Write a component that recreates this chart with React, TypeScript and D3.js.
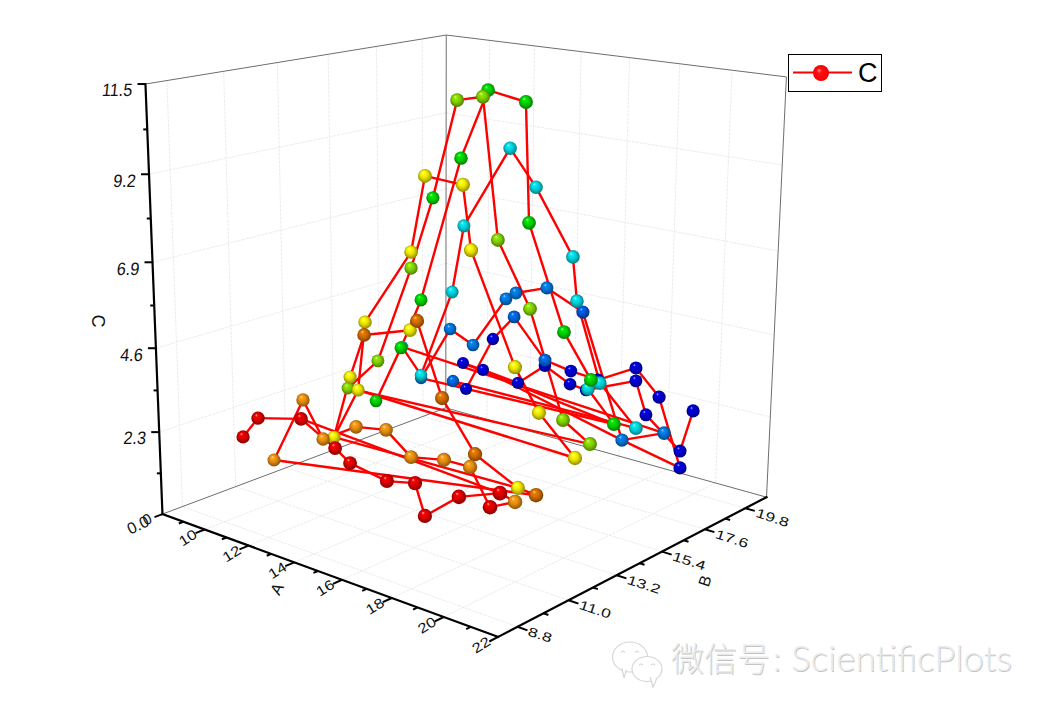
import { useEffect, useRef } from 'react'
import * as d3 from 'd3'

// values, in drawing order
const seriesA = [
  9.58, 10.3, 12.24, 13.7, 14.33, 15.86, 17.0, 17.39, 18.72, 20.27,
  19.97, 19.64, 18.24, 17.21, 15.88, 14.85, 13.58, 12.13, 11.26, 9.87,
  20.41, 18.87, 18.07, 16.76, 15.76, 14.51, 13.56, 11.91, 11.15,
  20.68, 19.3, 18.36, 16.61, 16.28, 14.76, 14.18, 12.19, 11.85,
  20.27, 19.23, 17.89, 16.6, 15.97, 14.94, 13.01, 13.02, 11.54, 10.16,
  20.37, 18.56, 19.46, 18.39, 16.96, 16.78, 15.28, 14.19, 12.49, 11.59, 10.44,
  20.44, 19.02, 18.06, 17.87, 16.37, 15.31, 13.41, 12.91, 11.53, 10.67,
  20.77, 19.16, 17.18, 16.03, 14.75, 14.33, 12.92, 11.9, 10.58,
  20.41, 19.51, 18.57, 17.06, 15.93, 15.83, 14.51, 12.55, 11.35, 11.85,
  10.66, 11.58, 13.16, 14.33, 15.42, 16.1, 18.13, 18.57, 19.96, 20.41,
]
const seriesB = [
  10, 10, 10, 10, 10, 10, 10, 10, 10, 10,
  11, 10.3, 11, 11, 11, 11, 11, 11, 11, 11,
  11.4, 12.4, 11.4, 11.4, 11.4, 12.4, 11.4, 12.4, 12.4,
  12.8, 12.8, 12.8, 12.8, 12.8, 12.8, 12.8, 12.8, 12.8,
  14, 14, 14, 14, 14, 14, 15, 14, 14, 14,
  15, 16, 15, 15, 15, 15, 15, 15, 15, 15, 15,
  16, 16, 16, 16, 16, 16, 16, 16, 16, 16,
  17, 17, 17.4, 17, 17, 17, 17, 17, 17,
  18.4, 18.4, 18.4, 18.4, 18.4, 17.2, 17.2, 18.4, 18.4, 17.2,
  19, 19, 19, 19, 19, 19, 19, 19, 19, 19,
]
const seriesC = [
  1.99, 2.65, 2.99, 2.48, 2.2, 2.03, 2.21, 1.43, 2.21, 2.63,
  2.08, 2.06, 2.63, 2.61, 2.42, 2.95, 2.79, 2.18, 3.1, 1.15,
  2.24, 1.85, 2.83, 4.05, 5.89, 5.25, 5.17, 3.54, 1.71,
  2.9, 3.81, 4.83, 7.58, 9.2, 9.25, 7.2, 5.02, 3.08,
  2.89, 3.33, 6.03, 7.64, 11.23, 11.05, 8.14, 6.4, 3.59, 2.57,
  3.2, 3.59, 4.21, 5.3, 7.97, 11.06, 11.22, 9.34, 5.26, 3.76, 2.02,
  2.87, 3.83, 5.88, 7.03, 8.68, 9.59, 7.27, 5.36, 2.75, 3.43,
  2.56, 2.06, 5.18, 5.75, 5.42, 5.19, 3.65, 3.95, 2.28,
  1.18, 3.0, 3.65, 3.05, 3.11, 3.66, 4.67, 3.48, 1.78, 2.37,
  2.32, 2.27, 2.15, 2.86, 2.51, 2.46, 3.08, 2.19, 1.42, 2.64,
]
// the line runs through the points in order, except after these
const gapsAfter = [28, 37, 47, 58, 77, 87]
// connections that the order above does not give
const extraLinks = [
  [2, 9], [28, 21], [37, 28], [37, 29], [47, 38], [77, 48], [87, 59], [88, 48], [89, 70], [78, 70],
]
const ticksA = [10, 12, 14, 16, 18, 20, 22]
const minorA = [9, 11, 13, 15, 17, 19, 21]
const ticksB = [8.8, 11, 13.2, 15.4, 17.6, 19.8]
const minorB = [9.9, 12.1, 14.3, 16.5, 18.7]
const ticksC = [2.3, 4.6, 6.9, 9.2, 11.5]
const minorC = [1.15, 3.45, 5.75, 8.05, 10.35]

const aScale = d3.scaleLinear().domain([8, 22]).range([0, 1])
const bScale = d3.scaleLinear().domain([8, 21]).range([0, 1])
const cScale = d3.scaleLinear().domain([0, 11.5]).range([0, 1])

const ballColor = d3.scaleLinear<string>()
  .domain([10.4, 11, 11.4, 12.4, 12.8, 14, 15, 16, 17, 18.4])
  .range(['#d80000', '#e08a10', '#cc6a00', '#e6df00', '#e6df00', '#7fcc00', '#00cc00', '#00cdd6', '#0073d6', '#0000cc'])
  .clamp(true)

// image positions of the box corners, used to fit the 3D camera
const corners: number[][] = [
  [0, 0, 0, 163, 514], [1, 0, 0, 498, 637], [1, 1, 0, 767, 497], [0, 1, 0, 445, 408],
  [0, 0, 1, 145, 84], [1, 1, 1, 786, 77], [0, 1, 1, 447, 35],
]

function solve(m: number[][], r: number[]) {
  const n = r.length
  const a = m.map((row, i) => [...row, r[i]])
  for (let i = 0; i < n; i++) {
    let p = i
    for (let k = i + 1; k < n; k++) if (Math.abs(a[k][i]) > Math.abs(a[p][i])) p = k
    ;[a[i], a[p]] = [a[p], a[i]]
    for (let k = 0; k < n; k++) {
      if (k === i) continue
      const f = a[k][i] / a[i][i]
      for (let j = i; j <= n; j++) a[k][j] -= f * a[i][j]
    }
  }
  return a.map((row, i) => row[n] / row[i])
}

function fitCamera() {
  const rows: number[][] = []
  const rhs: number[] = []
  corners.forEach(([u, v, w, x, y]) => {
    rows.push([u, v, w, 1, 0, 0, 0, 0, -x * u, -x * v, -x * w]); rhs.push(x)
    rows.push([0, 0, 0, 0, u, v, w, 1, -y * u, -y * v, -y * w]); rhs.push(y)
  })
  const ata = d3.range(11).map(i => d3.range(11).map(j => d3.sum(rows, r => r[i] * r[j])))
  const atb = d3.range(11).map(i => d3.sum(rows, (r, k) => r[i] * rhs[k]))
  return solve(ata, atb)
}

const cam = fitCamera()

function project(a: number, b: number, c: number) {
  const u = aScale(a), v = bScale(b), w = cScale(c)
  const d = cam[8] * u + cam[9] * v + cam[10] * w + 1
  return {
    x: (cam[0] * u + cam[1] * v + cam[2] * w + cam[3]) / d,
    y: (cam[4] * u + cam[5] * v + cam[6] * w + cam[7]) / d,
    d,
  }
}

const [aMin, aMax] = aScale.domain()
const [bMin, bMax] = bScale.domain()
const [cMin, cMax] = cScale.domain()

const FONT = '"Liberation Sans", Arial, sans-serif'

export default function App() {
  const svgRef = useRef<SVGSVGElement>(null)

  useEffect(() => {
    const svg = d3.select(svgRef.current)
    svg.selectAll('*').remove()
    const defs = svg.append('defs')

    const seg = (g: any, p: any, q: any, color: string, width: number, dash?: string) =>
      g.append('line')
        .attr('x1', p.x).attr('y1', p.y).attr('x2', q.x).attr('y2', q.y)
        .attr('stroke', color).attr('stroke-width', width)
        .attr('stroke-dasharray', dash ?? null)

    // grid on the two walls and the floor
    const grid = svg.append('g')
    const gridLine = (p: any, q: any) => seg(grid, p, q, '#ececec', 1, '3,1')
    ticksA.slice(0, -1).forEach(a => {
      gridLine(project(a, bMin, 0), project(a, bMax, 0))
      gridLine(project(a, bMax, 0), project(a, bMax, cMax))
    })
    ticksB.forEach(b => {
      gridLine(project(aMin, b, 0), project(aMax, b, 0))
      gridLine(project(aMin, b, 0), project(aMin, b, cMax))
    })
    ticksC.slice(0, -1).forEach(c => {
      gridLine(project(aMin, bMin, c), project(aMin, bMax, c))
      gridLine(project(aMin, bMax, c), project(aMax, bMax, c))
    })

    // thin box edges
    const edges = svg.append('g')
    const edge = (p: any, q: any) => seg(edges, p, q, '#6e6e6e', 1)
    edge(project(aMin, bMax, cMin), project(aMin, bMax, cMax))
    edge(project(aMax, bMax, cMin), project(aMax, bMax, cMax))
    edge(project(aMin, bMin, cMax), project(aMin, bMax, cMax))
    edge(project(aMin, bMax, cMax), project(aMax, bMax, cMax))
    edge(project(aMin, bMin, cMin), project(aMin, bMax, cMin))
    edge(project(aMin, bMax, cMin), project(aMax, bMax, cMin))

    // axes
    const axes = svg.append('g')
    seg(axes, project(aMin, bMin, 0), project(aMax, bMin, 0), '#000', 2.2).attr('stroke-linecap', 'square')
    seg(axes, project(aMax, bMin, 0), project(aMax, bMax, 0), '#000', 2.2).attr('stroke-linecap', 'square')
    seg(axes, project(aMin, bMin, 0), project(aMin, bMin, cMax), '#000', 2.2).attr('stroke-linecap', 'square')

    ticksA.forEach(a => seg(axes, project(a, bMin, 0), project(a, bMin - 0.36, 0), '#000', 2))
    minorA.forEach(a => seg(axes, project(a, bMin, 0), project(a, bMin - 0.18, 0), '#000', 2))
    ticksB.forEach(b => seg(axes, project(aMax, b, 0), project(aMax + 0.36, b, 0), '#000', 2))
    minorB.forEach(b => seg(axes, project(aMax, b, 0), project(aMax + 0.18, b, 0), '#000', 2))
    ticksC.concat(0).forEach(c => {
      const p = project(aMin, bMin, c)
      seg(axes, p, { x: p.x - 8, y: p.y + (c === 0 ? 3 : 0) }, '#000', 2)
    })
    minorC.forEach(c => {
      const p = project(aMin, bMin, c)
      seg(axes, p, { x: p.x - 4, y: p.y }, '#000', 2)
    })

    const labels = svg.append('g').attr('font-family', FONT).attr('fill', '#111')
    ticksA.forEach(a => {
      const p = project(a, bMin, 0)
      labels.append('text')
        .attr('transform', `translate(${p.x - 17},${p.y + 8}) rotate(-32) scale(1.2,1)`)
        .attr('text-anchor', 'middle').attr('dominant-baseline', 'central')
        .attr('font-size', 14).text(a)
    })
    ticksB.forEach(b => {
      const p = project(aMax, b, 0)
      labels.append('text')
        .attr('transform', `translate(${p.x + 11},${p.y + 4}) rotate(18) scale(1.35,1)`)
        .attr('dominant-baseline', 'central')
        .attr('font-size', 13).text(b.toFixed(1))
    })
    ticksC.forEach(c => {
      const p = project(aMin, bMin, c)
      labels.append('text')
        .attr('transform', `translate(${p.x - 13},${p.y + 6}) skewX(-6) scale(0.9,1)`)
        .attr('text-anchor', 'end').attr('dominant-baseline', 'central')
        .attr('font-size', 18).text(c.toFixed(1))
    })
    labels.append('text')
      .attr('transform', 'translate(138,525) rotate(-25)')
      .attr('text-anchor', 'middle').attr('dominant-baseline', 'central')
      .attr('font-size', 16).text('0.0')
    labels.append('text')
      .attr('transform', 'translate(147,519) rotate(-25)')
      .attr('text-anchor', 'middle').attr('dominant-baseline', 'central')
      .attr('font-size', 15).text('0')
    labels.append('text')
      .attr('transform', 'translate(277,589) rotate(-62)')
      .attr('text-anchor', 'middle').attr('dominant-baseline', 'central')
      .attr('font-size', 16).text('A')
    labels.append('text')
      .attr('transform', 'translate(705,581) rotate(-72)')
      .attr('text-anchor', 'middle').attr('dominant-baseline', 'central')
      .attr('font-size', 16).text('B')
    labels.append('text')
      .attr('transform', 'translate(98,321) rotate(90)')
      .attr('text-anchor', 'middle').attr('dominant-baseline', 'central')
      .attr('font-size', 18).text('C')

    // the data line
    const points = seriesA.map((a, i) => ({ ...project(a, seriesB[i], seriesC[i]), b: seriesB[i] }))
    const links = d3.pairs(d3.range(points.length)).filter(([i]) => !gapsAfter.includes(i)).concat(extraLinks as [number, number][])
    const line = d3.line<{ x: number; y: number }>().x(d => d.x).y(d => d.y)
    svg.append('g').selectAll('path').data(links).enter().append('path')
      .attr('d', ([i, j]) => line([points[i], points[j]]))
      .attr('fill', 'none').attr('stroke', '#ff0000').attr('stroke-width', 2.4)
      .attr('stroke-linecap', 'round')

    // spheres, far ones first
    const shade = (id: string, base: string) => {
      const c = d3.color(base)!
      const g = defs.append('radialGradient').attr('id', id)
        .attr('cx', 0.5).attr('cy', 0.5).attr('r', 0.55).attr('fx', 0.36).attr('fy', 0.26)
      g.append('stop').attr('offset', '0%').attr('stop-color', d3.interpolateRgb(base, '#fff')(0.75))
      g.append('stop').attr('offset', '20%').attr('stop-color', c.brighter(0.4).formatHex())
      g.append('stop').attr('offset', '52%').attr('stop-color', base)
      g.append('stop').attr('offset', '100%').attr('stop-color', c.darker(1.6).formatHex())
    }
    const sorted = points.map((p, i) => ({ ...p, i })).sort((p, q) => q.d - p.d)
    sorted.forEach(p => shade(`ball-${p.i}`, d3.color(ballColor(p.b))!.formatHex()))
    svg.append('g').selectAll('circle').data(sorted).enter().append('circle')
      .attr('cx', d => d.x).attr('cy', d => d.y)
      .attr('r', d => 6.6 / d.d)
      .attr('fill', d => `url(#ball-${d.i})`)

    // legend
    const legend = svg.append('g')
    legend.append('rect')
      .attr('x', 788.5).attr('y', 54.5).attr('width', 93).attr('height', 37)
      .attr('fill', '#fff').attr('stroke', '#000').attr('stroke-width', 1)
    legend.append('line')
      .attr('x1', 793).attr('y1', 72.5).attr('x2', 852).attr('y2', 72.5)
      .attr('stroke', '#ff0000').attr('stroke-width', 2)
    const key = defs.append('radialGradient').attr('id', 'legend-ball')
      .attr('cx', 0.5).attr('cy', 0.5).attr('r', 0.5).attr('fx', 0.36).attr('fy', 0.3)
    key.append('stop').attr('offset', '0%').attr('stop-color', '#ff9a9a')
    key.append('stop').attr('offset', '30%').attr('stop-color', '#ff1010')
    key.append('stop').attr('offset', '100%').attr('stop-color', '#f40000')
    legend.append('circle')
      .attr('cx', 821).attr('cy', 73).attr('r', 8)
      .attr('fill', 'url(#legend-ball)')
    legend.append('text')
      .attr('x', 858).attr('y', 82)
      .attr('font-family', FONT).attr('font-size', 27).text('C')

    // watermark
    const mark = svg.append('g')
    const bubble = (cx: number, cy: number, rx: number, ry: number, tx: number, ty: number, tail: number) => {
      const g = mark.append('g').attr('fill', '#fff').attr('stroke', '#d6d6d6').attr('stroke-width', 1.2)
      g.append('ellipse').attr('cx', cx).attr('cy', cy).attr('rx', rx).attr('ry', ry)
      g.append('path')
        .attr('d', `M${tx},${ty - 3} L${tx + tail},${ty + 7} L${tx + tail * 2.2},${ty - 1}`)
      ;[-1, 1].forEach(s => {
        g.append('path')
          .attr('d', `M${cx + s * rx * 0.4 - 2},${cy - ry * 0.3} q2,-2.5 4,0`)
          .attr('fill', 'none')
      })
    }
    bubble(630, 657, 17.5, 15, 622, 671, 2)
    bubble(647, 669, 15, 12.5, 650, 680, 3)
    const markText = (dx: number, dy: number, color: string) => {
      const g = mark.append('g').attr('fill', color).attr('transform', `translate(${dx},${dy})`)
      g.append('text')
        .attr('x', 671).attr('y', 671)
        .attr('font-family', '"Noto Sans CJK SC"').attr('font-weight', 300)
        .attr('font-size', 33).text('微信号')
      g.append('text')
        .attr('x', 773).attr('y', 671)
        .attr('font-family', 'Lato').attr('font-weight', 300)
        .attr('font-size', 33).text(':')
      g.append('text')
        .attr('x', 791).attr('y', 671)
        .attr('font-family', 'Lato').attr('font-weight', 300)
        .attr('font-size', 35).attr('textLength', 221).attr('lengthAdjust', 'spacingAndGlyphs')
        .text('ScientificPlots')
    }
    markText(0.7, 0.7, '#c4c4c4')
    markText(0, 0, '#ebebeb')
  }, [])

  return <svg ref={svgRef} width={1046} height={714} style={{ position: 'absolute', left: 0, top: 0, background: '#fff' }} />
}
